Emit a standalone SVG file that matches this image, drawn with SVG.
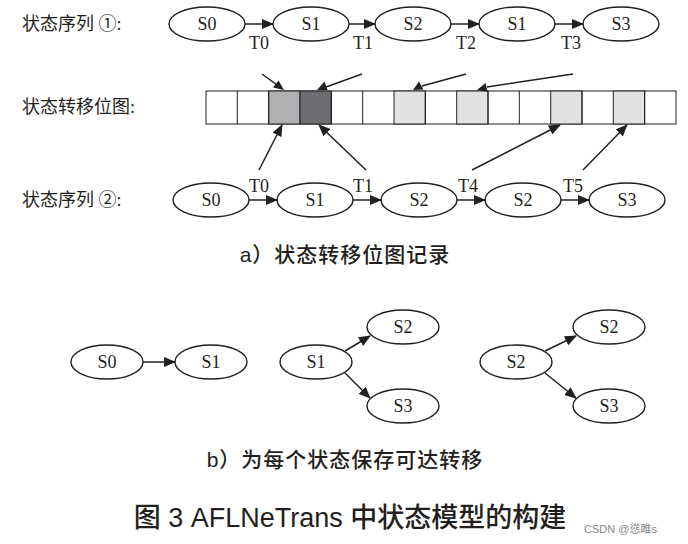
<svg xmlns="http://www.w3.org/2000/svg" width="688" height="544" viewBox="0 0 688 544">
<style>
.n ellipse{fill:#fff;stroke:#231f20;stroke-width:1.4}
.t{font-family:"Liberation Serif",serif;font-size:18px;fill:#231f20;text-anchor:middle}
.l{font-family:"Liberation Serif","Noto Sans CJK SC",serif;font-size:18px;fill:#231f20}
.c{font-family:"Liberation Sans","Noto Sans CJK SC",sans-serif;fill:#231f20;text-anchor:middle}
#conn line,#conn path.s{stroke:#231f20;stroke-width:1.5;fill:none}
#conn line{marker-end:url(#a)}
.cell{stroke:#231f20;stroke-width:1}
</style>
<defs><marker id="a" markerWidth="12" markerHeight="10" refX="11" refY="5" orient="auto" markerUnits="userSpaceOnUse"><path d="M0,0 L12,5 L0,10z" fill="#231f20"/></marker></defs>
<rect width="688" height="544" fill="#fff"/>
<text class="l" x="22" y="30">状态序列 ①:</text>
<text class="l" x="22" y="113">状态转移位图:</text>
<text class="l" x="22" y="206">状态序列 ②:</text>
<g id="bitmap">
<rect class="cell" x="206" y="91" width="470" height="33" fill="#fff"/>
<rect class="cell" x="268.7" y="91" width="31.3" height="33" fill="#b0b1b3"/>
<rect class="cell" x="300" y="91" width="31.3" height="33" fill="#6d6e71"/>
<rect class="cell" x="394" y="91" width="31.3" height="33" fill="#e1e2e3"/>
<rect class="cell" x="456.7" y="91" width="31.3" height="33" fill="#e1e2e3"/>
<rect class="cell" x="550.7" y="91" width="31.3" height="33" fill="#e1e2e3"/>
<rect class="cell" x="613.3" y="91" width="31.3" height="33" fill="#e1e2e3"/>
<path d="M237.3,91V124M268.7,91V124M331.3,91V124M362.7,91V124M425.3,91V124M488,91V124M519.3,91V124M582,91V124M644.7,91V124" stroke="#231f20" fill="none"/>
</g>
<g id="r1" class="n">
<ellipse cx="207" cy="24" rx="38" ry="17"/><text class="t" x="207" y="30">S0</text>
<ellipse cx="311" cy="24" rx="38" ry="17"/><text class="t" x="311" y="30">S1</text>
<ellipse cx="413" cy="24" rx="38" ry="17"/><text class="t" x="413" y="30">S2</text>
<ellipse cx="517" cy="24" rx="38" ry="17"/><text class="t" x="517" y="30">S1</text>
<ellipse cx="621" cy="24" rx="38" ry="17"/><text class="t" x="621" y="30">S3</text>
</g>
<g id="r2" class="n">
<ellipse cx="211" cy="200" rx="38" ry="17"/><text class="t" x="211" y="206">S0</text>
<ellipse cx="315" cy="200" rx="38" ry="17"/><text class="t" x="315" y="206">S1</text>
<ellipse cx="419" cy="200" rx="38" ry="17"/><text class="t" x="419" y="206">S2</text>
<ellipse cx="523" cy="200" rx="38" ry="17"/><text class="t" x="523" y="206">S2</text>
<ellipse cx="627" cy="200" rx="38" ry="17"/><text class="t" x="627" y="206">S3</text>
</g>
<g id="b" class="n">
<ellipse cx="107" cy="362" rx="36" ry="17"/><text class="t" x="107" y="368">S0</text>
<ellipse cx="211" cy="362" rx="36" ry="17"/><text class="t" x="211" y="368">S1</text>
<ellipse cx="316" cy="362" rx="36" ry="17"/><text class="t" x="316" y="368">S1</text>
<ellipse cx="403" cy="327" rx="36" ry="17"/><text class="t" x="403" y="333">S2</text>
<ellipse cx="403" cy="406" rx="36" ry="17"/><text class="t" x="403" y="412">S3</text>
<ellipse cx="516" cy="362" rx="36" ry="17"/><text class="t" x="516" y="368">S2</text>
<ellipse cx="609" cy="327" rx="36" ry="17"/><text class="t" x="609" y="333">S2</text>
<ellipse cx="609" cy="406" rx="36" ry="17"/><text class="t" x="609" y="412">S3</text>
</g>
<g id="conn">
<line x1="245" y1="24" x2="273" y2="24"/><line x1="349" y1="24" x2="375" y2="24"/><line x1="451" y1="24" x2="479" y2="24"/><line x1="555" y1="24" x2="583" y2="24"/>
<line x1="249" y1="200" x2="277" y2="200"/><line x1="353" y1="200" x2="381" y2="200"/><line x1="457" y1="200" x2="485" y2="200"/><line x1="561" y1="200" x2="589" y2="200"/>
<path class="s" d="M262,74L277,85M362,74L326,87M466,74L422,86M573,74L487,87"/>
<path fill="#231f20" d="M284,90L273,87.5L278.5,80.5zM317,90L324.5,81.5L327.5,90zM413,90L419,81.5L423.5,89.5zM477,90L485.5,83L487.5,91.5z"/>
<line x1="259" y1="170" x2="282" y2="125"/><line x1="366" y1="170" x2="319" y2="125"/><line x1="472" y1="170" x2="560" y2="125"/><line x1="583" y1="170" x2="627" y2="125"/>
<line x1="143" y1="362" x2="175" y2="362"/>
<line x1="345" y1="351" x2="370" y2="336"/><line x1="345" y1="373" x2="370" y2="398"/>
<line x1="545" y1="351" x2="576" y2="336"/><line x1="545" y1="373" x2="576" y2="398"/>
</g>
<g id="labels">
<text class="t" x="259" y="49">T0</text><text class="t" x="363" y="49">T1</text><text class="t" x="466" y="49">T2</text><text class="t" x="571" y="49">T3</text>
<text class="t" x="259" y="192">T0</text><text class="t" x="363" y="192">T1</text><text class="t" x="468" y="192">T4</text><text class="t" x="573" y="192">T5</text>
</g>
<text class="c" x="345" y="262" font-size="21" font-weight="500" letter-spacing="1">a）状态转移位图记录</text>
<text class="c" x="345" y="467" font-size="21" font-weight="500" letter-spacing="1">b）为每个状态保存可达转移</text>
<text class="c" x="350" y="527" font-size="27" font-weight="500">图 3 AFLNeTrans 中状态模型的构建</text>
<text x="584" y="533" font-family="Liberation Sans,'Noto Sans CJK SC',sans-serif" font-size="11" fill="#888">CSDN @慫睢s</text>
</svg>
